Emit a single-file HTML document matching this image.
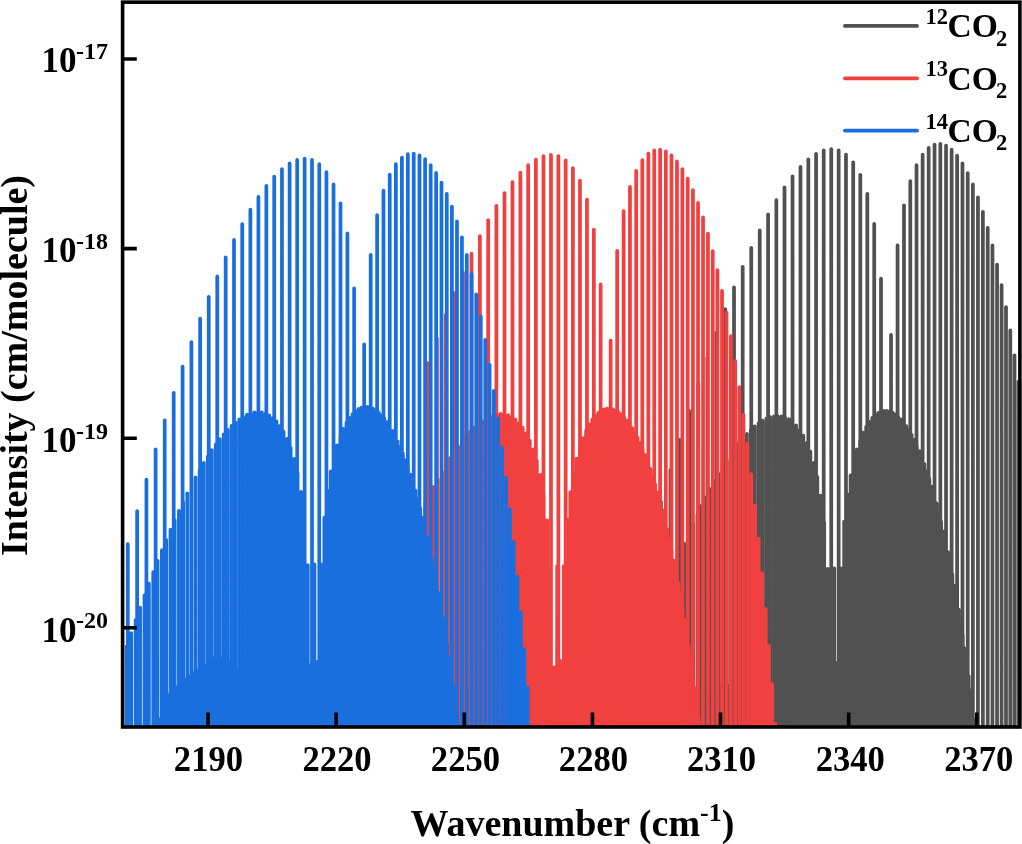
<!DOCTYPE html>
<html><head><meta charset="utf-8"><title>CO2 isotopologue spectra</title>
<style>
html,body{margin:0;padding:0;background:#fff;}
svg{display:block;}
text{font-family:"Liberation Serif","Times New Roman",serif;font-weight:bold;fill:#000;}
</style></head>
<body>
<svg width="1022" height="844" viewBox="0 0 1022 844">
<defs><clipPath id="c"><rect x="122.6" y="2.15" width="897.3" height="724.85"/></clipPath></defs>
<g clip-path="url(#c)" fill="none" stroke-width="3.75" stroke-linecap="round">
<path stroke="#515151" d="M891.02 730.0V334.78M881.02 730.0V278.65M897.56 730.0V245.25M874.22 730.0V223.77M903.99 730.0V205.37M867.32 730.0V193.83M910.31 730.0V181.10M860.31 730.0V174.83M916.53 730.0V165.09M853.20 730.0V162.40M922.64 730.0V154.50M845.98 730.0V154.58M928.65 730.0V147.93M838.66 730.0V150.33M934.55 730.0V144.58M831.24 730.0V149.03M940.35 730.0V143.96M823.71 730.0V150.28M946.04 730.0V145.73M816.07 730.0V153.79M951.62 730.0V149.68M808.33 730.0V159.39M957.10 730.0V155.62M800.49 730.0V166.91M962.47 730.0V163.43M792.54 730.0V176.26M967.73 730.0V173.03M784.49 730.0V187.35M972.89 730.0V184.32M776.34 730.0V200.11M977.94 730.0V197.26M768.08 730.0V214.48M982.88 730.0V211.78M759.72 730.0V230.42M987.72 730.0V227.86M751.26 730.0V247.89M992.45 730.0V245.46M742.69 730.0V266.87M997.07 730.0V264.54M734.02 730.0V287.32M1001.59 730.0V285.08M725.25 730.0V309.22M1006.00 730.0V307.07M716.37 730.0V332.55M1010.30 730.0V330.48M707.39 730.0V357.30M1014.49 730.0V355.30M698.31 730.0V383.46M1018.57 730.0V381.52M689.12 730.0V410.99M1022.55 730.0V409.11M679.84 730.0V439.91M1026.42 730.0V438.08M670.45 730.0V470.19M1030.18 730.0V468.41M660.96 730.0V501.83M651.36 730.0V534.81M641.67 730.0V569.13M631.87 730.0V604.79M621.97 730.0V641.77M611.97 730.0V680.07M601.87 730.0V719.69M840.89 730.0V568.32M834.27 730.0V568.33M827.59 730.0V568.96M844.14 730.0V521.57M834.21 730.0V617.36M824.20 730.0V522.53M847.37 730.0V494.43M834.13 730.0V647.66M820.79 730.0V495.71M850.58 730.0V475.36M834.03 730.0V670.28M817.34 730.0V476.95M853.75 730.0V460.86M833.89 730.0V688.71M813.87 730.0V462.77M856.90 730.0V449.42M833.73 730.0V704.54M810.37 730.0V451.65M860.03 730.0V440.22M833.55 730.0V718.64M806.85 730.0V442.76M863.12 730.0V432.74M803.30 730.0V435.61M866.19 730.0V426.69M799.72 730.0V429.87M869.23 730.0V421.82M796.12 730.0V425.32M872.25 730.0V417.99M792.49 730.0V421.80M875.24 730.0V415.06M788.83 730.0V419.20M878.20 730.0V412.96M785.15 730.0V417.41M881.13 730.0V411.60M781.44 730.0V416.37M884.04 730.0V410.93M777.71 730.0V416.02M886.92 730.0V410.91M773.94 730.0V416.31M889.77 730.0V411.49M770.15 730.0V417.21M892.60 730.0V412.64M766.34 730.0V418.68M895.40 730.0V414.33M762.50 730.0V420.69M898.17 730.0V416.55M758.63 730.0V423.23M900.92 730.0V419.27M754.73 730.0V426.27M903.64 730.0V422.47M750.81 730.0V429.79M906.33 730.0V426.15M746.86 730.0V433.78M909.00 730.0V430.28M742.89 730.0V438.23M911.63 730.0V434.86M738.89 730.0V443.13M914.24 730.0V439.87M734.86 730.0V448.46M916.83 730.0V445.31M730.81 730.0V454.22M919.38 730.0V451.17M726.73 730.0V460.39M921.91 730.0V457.44M722.62 730.0V466.98M924.42 730.0V464.11M718.49 730.0V473.97M926.89 730.0V471.19M714.33 730.0V481.36M929.34 730.0V478.65M710.15 730.0V489.14M931.76 730.0V486.51M705.94 730.0V497.32M934.15 730.0V494.74M701.70 730.0V505.87M936.52 730.0V503.36M697.44 730.0V514.81M938.86 730.0V512.35M693.15 730.0V524.12M941.17 730.0V521.72M688.83 730.0V533.80M943.46 730.0V531.46M684.49 730.0V543.85M945.71 730.0V541.56M680.12 730.0V554.27M947.94 730.0V552.02M675.73 730.0V565.05M950.15 730.0V562.85M671.31 730.0V576.20M952.32 730.0V574.03M666.86 730.0V587.70M954.47 730.0V585.58M662.39 730.0V599.56M956.59 730.0V597.47M657.89 730.0V611.77M958.68 730.0V609.72M653.36 730.0V624.34M960.75 730.0V622.32M648.81 730.0V637.25M962.79 730.0V635.27M644.23 730.0V650.52M964.80 730.0V648.56M639.63 730.0V664.13M966.79 730.0V662.20M635.00 730.0V678.09M968.74 730.0V676.19M630.35 730.0V692.39M970.67 730.0V690.52M625.66 730.0V707.03M972.57 730.0V705.19M620.96 730.0V722.02M974.45 730.0V720.20M811.27 730.0V720.49M774.58 730.0V709.22M817.59 730.0V696.17M767.56 730.0V690.28M823.81 730.0V680.12M760.44 730.0V677.90M829.92 730.0V669.48M753.21 730.0V670.14M835.92 730.0V662.86M745.87 730.0V665.95M841.81 730.0V659.47M738.43 730.0V664.70M847.60 730.0V658.80M730.88 730.0V666.00M853.28 730.0V660.54M723.23 730.0V669.58M858.85 730.0V664.44M715.47 730.0V675.23M864.32 730.0V670.34M707.60 730.0V682.82M869.67 730.0V678.11M699.63 730.0V692.23M874.92 730.0V687.67M691.56 730.0V703.38M880.06 730.0V698.92M683.38 730.0V716.20M885.09 730.0V711.82M890.01 730.0V726.31M803.61 730.0V722.58M757.03 730.0V725.16M806.73 730.0V712.06M753.50 730.0V715.00M809.82 730.0V703.69M749.94 730.0V707.01M812.89 730.0V697.00M746.36 730.0V700.68M815.93 730.0V691.66M742.75 730.0V695.71M818.95 730.0V687.47M739.11 730.0V691.89M821.93 730.0V684.26M735.44 730.0V689.05M824.89 730.0V681.93M731.75 730.0V687.08M827.82 730.0V680.38M728.03 730.0V685.91M830.73 730.0V679.56M724.29 730.0V685.45M833.61 730.0V679.40M720.51 730.0V685.66M836.46 730.0V679.87M716.71 730.0V686.50M839.28 730.0V680.92M712.89 730.0V687.92M842.07 730.0V682.53M709.03 730.0V689.90M844.84 730.0V684.67M705.15 730.0V692.40M847.58 730.0V687.32M701.24 730.0V695.42M850.29 730.0V690.47M697.31 730.0V698.94M852.98 730.0V694.09M693.35 730.0V702.92M855.63 730.0V698.17M689.36 730.0V707.37M858.26 730.0V702.70M685.35 730.0V712.27M860.87 730.0V707.67M681.30 730.0V717.61M863.44 730.0V713.07M677.24 730.0V723.38M865.99 730.0V718.89M868.51 730.0V725.13M820.17 730.0V721.27M756.84 730.0V719.05M826.25 730.0V710.63M749.59 730.0V711.28M832.21 730.0V704.01M742.23 730.0V707.08M838.07 730.0V700.61M734.76 730.0V705.83M843.81 730.0V699.94M727.18 730.0V707.13M849.44 730.0V701.66M719.49 730.0V710.69M854.96 730.0V705.55M711.68 730.0V716.34M860.37 730.0V711.44M703.77 730.0V723.91M865.66 730.0V719.21"/>
<path stroke="#F14040" d="M610.63 730.0V340.51M600.64 730.0V284.38M617.17 730.0V250.98M593.84 730.0V229.50M623.61 730.0V211.10M586.95 730.0V199.56M629.95 730.0V186.82M579.95 730.0V180.56M636.18 730.0V170.81M572.86 730.0V168.13M642.32 730.0V160.22M565.66 730.0V160.32M648.35 730.0V153.65M558.37 730.0V156.07M654.28 730.0V150.29M550.97 730.0V154.77M660.10 730.0V149.67M543.47 730.0V156.01M665.83 730.0V151.44M535.87 730.0V159.53M671.45 730.0V155.38M528.17 730.0V165.13M676.97 730.0V161.32M520.38 730.0V172.65M682.39 730.0V169.13M512.48 730.0V182.00M687.70 730.0V178.72M504.48 730.0V193.09M692.92 730.0V190.01M496.38 730.0V205.84M698.03 730.0V202.95M488.18 730.0V220.21M703.03 730.0V217.47M479.89 730.0V236.16M707.93 730.0V233.54M471.49 730.0V253.63M712.74 730.0V251.14M463.00 730.0V272.60M717.43 730.0V270.21M454.40 730.0V293.05M722.03 730.0V290.76M445.71 730.0V314.95M726.52 730.0V312.74M436.91 730.0V338.29M730.90 730.0V336.15M428.02 730.0V363.04M735.18 730.0V360.96M739.36 730.0V387.17M743.44 730.0V414.77M747.41 730.0V443.73M751.28 730.0V474.05M755.04 730.0V505.73M758.70 730.0V538.74M762.25 730.0V573.10M765.70 730.0V608.78M769.04 730.0V645.79M772.28 730.0V684.11M775.42 730.0V723.75M563.81 730.0V566.12M557.19 730.0V566.13M550.52 730.0V566.76M567.07 730.0V519.37M557.14 730.0V615.16M547.13 730.0V520.33M570.31 730.0V492.23M557.06 730.0V645.46M543.72 730.0V493.51M573.51 730.0V473.15M556.96 730.0V668.08M540.28 730.0V474.75M576.70 730.0V458.66M556.83 730.0V686.51M536.81 730.0V460.58M579.85 730.0V447.22M556.68 730.0V702.34M533.32 730.0V449.46M582.98 730.0V438.01M556.50 730.0V716.44M529.81 730.0V440.57M586.09 730.0V430.54M526.26 730.0V433.41M589.17 730.0V424.48M522.70 730.0V427.68M592.22 730.0V419.61M519.10 730.0V423.13M595.25 730.0V415.78M515.48 730.0V419.61M598.25 730.0V412.85M511.84 730.0V417.01M601.22 730.0V410.75M508.17 730.0V415.22M604.17 730.0V409.39M504.47 730.0V414.18M607.09 730.0V408.72M500.75 730.0V413.83M609.99 730.0V408.69M497.01 730.0V414.12M612.86 730.0V409.27M493.23 730.0V415.02M615.71 730.0V410.42M489.44 730.0V416.49M618.53 730.0V412.11M485.61 730.0V418.50M621.32 730.0V414.33M481.76 730.0V421.04M624.09 730.0V417.05M477.89 730.0V424.08M626.83 730.0V420.25M473.99 730.0V427.60M629.54 730.0V423.92M470.07 730.0V431.59M632.23 730.0V428.05M466.11 730.0V436.04M634.89 730.0V432.63M462.14 730.0V440.94M637.53 730.0V437.64M458.14 730.0V446.27M640.14 730.0V443.08M454.11 730.0V452.03M642.72 730.0V448.94M450.06 730.0V458.20M645.28 730.0V455.21M445.98 730.0V464.79M647.81 730.0V461.88M441.88 730.0V471.78M650.32 730.0V468.95M437.75 730.0V479.17M652.80 730.0V476.41M433.60 730.0V486.96M655.25 730.0V484.26M429.42 730.0V495.13M657.68 730.0V492.50M425.22 730.0V503.68M660.08 730.0V501.12M662.46 730.0V510.11M664.81 730.0V519.47M667.13 730.0V529.21M669.42 730.0V539.30M671.69 730.0V549.77M673.94 730.0V560.59M676.16 730.0V571.78M678.35 730.0V583.32M680.51 730.0V595.21M682.65 730.0V607.46M684.76 730.0V620.05M686.85 730.0V633.00M688.91 730.0V646.29M690.94 730.0V659.93M692.94 730.0V673.91M694.92 730.0V688.24M696.88 730.0V702.91M698.80 730.0V717.92M535.42 730.0V718.36M498.73 730.0V707.10M541.73 730.0V694.04M491.70 730.0V688.16M547.93 730.0V677.98M484.56 730.0V675.79M554.03 730.0V667.35M477.32 730.0V668.02M560.01 730.0V660.73M469.96 730.0V663.83M565.88 730.0V657.33M462.50 730.0V662.59M571.65 730.0V656.67M454.93 730.0V663.89M577.30 730.0V658.40M447.25 730.0V667.47M582.84 730.0V662.30M439.46 730.0V673.12M588.27 730.0V668.20M431.56 730.0V680.71M593.59 730.0V675.97M423.56 730.0V690.12M598.80 730.0V685.52M603.90 730.0V696.78M608.88 730.0V709.67M613.76 730.0V724.16M526.70 730.0V726.65M529.85 730.0V713.12M483.28 730.0V715.71M532.97 730.0V702.59M479.74 730.0V705.55M536.06 730.0V694.22M476.18 730.0V697.55M539.12 730.0V687.53M472.59 730.0V691.23M542.15 730.0V682.19M468.97 730.0V686.26M545.16 730.0V678.00M465.33 730.0V682.44M548.13 730.0V674.79M461.65 730.0V679.60M551.08 730.0V672.46M457.95 730.0V677.64M554.00 730.0V670.91M454.22 730.0V676.46M556.90 730.0V670.09M450.47 730.0V676.01M559.76 730.0V669.93M446.68 730.0V676.22M562.60 730.0V670.40M442.87 730.0V677.05M565.41 730.0V671.45M439.03 730.0V678.47M568.19 730.0V673.06M435.16 730.0V680.45M570.94 730.0V675.20M431.27 730.0V682.96M573.67 730.0V677.85M427.35 730.0V685.98M576.36 730.0V680.99M423.40 730.0V689.50M579.03 730.0V684.61M581.67 730.0V688.69M584.29 730.0V693.23M586.87 730.0V698.20M589.42 730.0V703.60M591.95 730.0V709.42M594.45 730.0V715.65M596.92 730.0V722.29M495.60 730.0V720.14M432.27 730.0V717.94M501.67 730.0V709.50M425.02 730.0V710.17M507.63 730.0V702.87M513.48 730.0V699.47M519.21 730.0V698.80M524.83 730.0V700.52M530.34 730.0V704.41M535.73 730.0V710.30M541.00 730.0V718.07"/>
<path stroke="#1A6FDF" d="M364.15 730.0V344.44M354.16 730.0V288.31M370.69 730.0V254.90M347.38 730.0V233.43M377.13 730.0V215.02M340.50 730.0V203.49M383.47 730.0V190.74M333.52 730.0V184.49M389.72 730.0V174.73M326.44 730.0V172.06M395.87 730.0V164.13M319.27 730.0V164.24M401.91 730.0V157.55M312.00 730.0V159.98M407.86 730.0V154.19M304.64 730.0V158.68M413.72 730.0V153.55M297.18 730.0V159.91M419.47 730.0V155.32M289.62 730.0V163.42M425.12 730.0V159.24M281.96 730.0V169.01M430.68 730.0V165.17M274.21 730.0V176.53M436.14 730.0V172.97M266.36 730.0V185.86M441.49 730.0V182.55M258.41 730.0V196.94M446.75 730.0V193.82M250.37 730.0V209.68M451.91 730.0V206.74M242.24 730.0V224.04M456.97 730.0V221.25M234.00 730.0V239.96M461.93 730.0V237.30M225.67 730.0V257.42M466.79 730.0V254.88M217.25 730.0V276.38M471.56 730.0V273.93M208.73 730.0V296.81M476.22 730.0V294.46M200.12 730.0V318.69M480.78 730.0V316.42M191.40 730.0V342.01M485.24 730.0V339.80M182.60 730.0V366.74M489.60 730.0V364.60M173.70 730.0V392.86M493.86 730.0V390.78M164.70 730.0V420.38M498.02 730.0V418.35M155.61 730.0V449.27M502.09 730.0V447.28M146.42 730.0V479.52M506.05 730.0V477.58M137.14 730.0V511.13M509.90 730.0V509.22M127.77 730.0V544.09M513.66 730.0V542.21M517.32 730.0V576.53M520.88 730.0V612.19M524.33 730.0V649.16M527.69 730.0V687.45M321.08 730.0V564.40M314.47 730.0V564.41M307.80 730.0V565.05M324.34 730.0V517.65M314.42 730.0V613.44M304.41 730.0V518.61M327.58 730.0V490.51M314.34 730.0V643.74M301.01 730.0V491.79M330.79 730.0V471.43M314.24 730.0V666.36M297.57 730.0V473.03M333.97 730.0V456.93M314.12 730.0V684.79M294.11 730.0V458.86M337.13 730.0V445.49M313.97 730.0V700.62M290.63 730.0V447.74M340.27 730.0V436.28M313.80 730.0V714.71M287.12 730.0V438.85M343.38 730.0V428.80M283.59 730.0V431.69M346.46 730.0V422.74M280.04 730.0V425.95M349.52 730.0V417.87M276.45 730.0V421.40M352.56 730.0V414.03M272.85 730.0V417.88M355.57 730.0V411.10M269.22 730.0V415.27M358.55 730.0V408.99M265.56 730.0V413.49M361.51 730.0V407.63M261.88 730.0V412.44M364.45 730.0V406.96M258.18 730.0V412.09M367.36 730.0V406.93M254.45 730.0V412.38M370.24 730.0V407.50M250.69 730.0V413.27M373.10 730.0V408.64M246.91 730.0V414.74M375.94 730.0V410.33M243.11 730.0V416.75M378.75 730.0V412.54M239.28 730.0V419.28M381.53 730.0V415.26M235.43 730.0V422.31M384.29 730.0V418.45M231.55 730.0V425.83M387.02 730.0V422.12M227.65 730.0V429.82M389.73 730.0V426.24M223.72 730.0V434.26M392.42 730.0V430.81M219.77 730.0V439.15M395.07 730.0V435.82M215.80 730.0V444.48M397.71 730.0V441.25M211.80 730.0V450.23M400.32 730.0V447.10M207.78 730.0V456.40M402.90 730.0V453.36M203.73 730.0V462.98M405.46 730.0V460.02M199.65 730.0V469.96M407.99 730.0V467.08M195.56 730.0V477.35M410.50 730.0V474.54M191.43 730.0V485.12M412.98 730.0V482.38M187.29 730.0V493.29M415.43 730.0V490.61M183.12 730.0V501.83M417.86 730.0V499.22M178.92 730.0V510.76M420.27 730.0V508.20M174.70 730.0V520.06M422.65 730.0V517.55M170.46 730.0V529.74M425.01 730.0V527.28M166.19 730.0V539.78M427.34 730.0V537.37M161.90 730.0V550.19M429.64 730.0V547.82M157.58 730.0V560.96M431.92 730.0V558.63M153.24 730.0V572.09M434.17 730.0V569.80M148.88 730.0V583.59M436.40 730.0V581.33M144.49 730.0V595.43M438.60 730.0V593.21M140.08 730.0V607.64M440.78 730.0V605.45M135.64 730.0V620.19M442.93 730.0V618.03M131.18 730.0V633.10M445.06 730.0V630.97M126.69 730.0V646.35M447.16 730.0V644.25M122.18 730.0V659.95M449.23 730.0V657.87M451.28 730.0V671.84M453.31 730.0V686.16M455.31 730.0V700.81M457.28 730.0V715.81M161.00 730.0V718.87M162.50 730.0V709.88M164.00 730.0V704.32M165.50 730.0V700.48M167.00 730.0V696.64M168.50 730.0V694.86M170.00 730.0V693.59M171.50 730.0V692.32M173.00 730.0V691.05M174.50 730.0V689.78M176.00 730.0V688.51M177.50 730.0V687.24M179.00 730.0V685.98M180.50 730.0V684.69M182.00 730.0V683.34M183.50 730.0V681.98M185.00 730.0V680.62M186.50 730.0V679.27M188.00 730.0V677.91M189.50 730.0V676.65M191.00 730.0V675.48M192.50 730.0V674.31M194.00 730.0V673.14M195.50 730.0V671.97M197.00 730.0V670.83M198.50 730.0V670.20M200.00 730.0V669.57M201.50 730.0V668.94M203.00 730.0V668.31M204.50 730.0V667.68M206.00 730.0V666.38M207.50 730.0V664.73M209.00 730.0V663.09M210.50 730.0V661.44M212.00 730.0V659.80M213.50 730.0V658.39M215.00 730.0V658.48M216.50 730.0V658.57M218.00 730.0V658.67M219.50 730.0V658.76M221.00 730.0V658.86M222.50 730.0V659.42M224.00 730.0V660.10M225.50 730.0V660.78M227.00 730.0V661.46M228.50 730.0V662.14M230.00 730.0V663.62M231.50 730.0V665.29M233.00 730.0V666.97M234.50 730.0V668.64M236.00 730.0V670.32M237.50 730.0V672.40M239.00 730.0V674.69M240.50 730.0V676.98M242.00 730.0V679.26M243.50 730.0V681.55M245.00 730.0V683.53M246.50 730.0V684.89M248.00 730.0V686.25M249.50 730.0V687.61M251.00 730.0V688.97M252.50 730.0V689.73M254.00 730.0V689.30M255.50 730.0V688.87M257.00 730.0V688.45M258.50 730.0V688.02M260.00 730.0V687.59M261.50 730.0V687.16M263.00 730.0V686.73M264.50 730.0V686.30M266.00 730.0V685.87M267.50 730.0V685.45M269.00 730.0V685.02M270.50 730.0V684.59M272.00 730.0V684.16M273.50 730.0V683.73M275.00 730.0V683.30M276.50 730.0V682.87M278.00 730.0V682.45M279.50 730.0V682.02M281.00 730.0V681.27M282.50 730.0V680.38M284.00 730.0V679.48M285.50 730.0V678.57M287.00 730.0V677.68M288.50 730.0V676.77M290.00 730.0V675.88M291.50 730.0V674.98M293.00 730.0V674.08M294.50 730.0V673.17M296.00 730.0V672.27M297.50 730.0V671.38M299.00 730.0V670.47M300.50 730.0V669.66M302.00 730.0V669.02M303.50 730.0V668.39M305.00 730.0V667.75M306.50 730.0V667.11M308.00 730.0V666.47M309.50 730.0V665.82M311.00 730.0V664.96M312.50 730.0V664.10M314.00 730.0V663.25M315.50 730.0V662.39M317.00 730.0V662.01M318.50 730.0V662.34M320.00 730.0V662.67M321.50 730.0V663.00M323.00 730.0V663.33M324.50 730.0V663.66M326.00 730.0V663.99M327.50 730.0V664.32M329.00 730.0V664.65M330.50 730.0V665.44M332.00 730.0V667.14M333.50 730.0V668.84M335.00 730.0V670.54M336.50 730.0V672.24M338.00 730.0V673.94M339.50 730.0V675.64M341.00 730.0V677.34M342.50 730.0V679.04M344.00 730.0V680.74M345.50 730.0V682.54M347.00 730.0V684.54M348.50 730.0V686.54M350.00 730.0V688.54M351.50 730.0V690.54M353.00 730.0V692.54M354.50 730.0V694.54M356.00 730.0V696.54M357.50 730.0V698.54M359.00 730.0V700.54"/>
</g>
<g stroke="#000" stroke-width="3.6" fill="none">
<rect x="122.6" y="2.15" width="897.3" height="724.85"/>
<path d="M122.6 59H136.8M122.6 248.6H136.8M122.6 438.2H136.8M122.6 627.8H136.8"/>
<path d="M208 727V712.4M336.1 727V712.4M464.3 727V712.4M592.4 727V712.4M720.5 727V712.4M848.7 727V712.4M976.8 727V712.4"/>
</g>
<g font-size="35">
<text x="41.4" y="72.1">10</text><text x="76" y="58.8" font-size="24">-17</text>
<text x="41.4" y="262.3">10</text><text x="76" y="248.5" font-size="24">-18</text>
<text x="41.4" y="452.3">10</text><text x="76" y="438.5" font-size="24">-19</text>
<text x="41.4" y="642.3">10</text><text x="76" y="628.2" font-size="24">-20</text>
</g>
<g font-size="36" text-anchor="middle">
<text transform="translate(208.4 771.2) scale(0.96 1)">2190</text>
<text transform="translate(337 771.2) scale(0.96 1)">2220</text>
<text transform="translate(465.4 771.2) scale(0.96 1)">2250</text>
<text transform="translate(593.4 771.2) scale(0.96 1)">2280</text>
<text transform="translate(721.5 771.2) scale(0.96 1)">2310</text>
<text transform="translate(850.2 771.2) scale(0.96 1)">2340</text>
<text transform="translate(978.7 771.2) scale(0.96 1)">2370</text>
</g>
<text x="410.5" y="835.8" font-size="38">Wavenumber (cm<tspan font-size="26" dy="-15">-1</tspan><tspan dy="15">)</tspan></text>
<text transform="translate(27,365.5) rotate(-90)" x="0" y="0" font-size="38" text-anchor="middle">Intensity (cm/molecule)</text>
<g stroke-width="3.7" stroke-linecap="round">
<path stroke="#515151" d="M844.9 25.9H917.1"/>
<path stroke="#F14040" d="M844.9 78.3H917.1"/>
<path stroke="#1A6FDF" d="M844.9 130.7H917.1"/>
</g>
<g font-size="33.5">
<text x="925.5" y="37.2"><tspan font-size="22.5" dy="-13.3">12</tspan><tspan dy="13.3" dx="-0.5">CO</tspan><tspan font-size="22.5" dy="8.4" dx="-1.8">2</tspan></text>
<text x="925.5" y="89.6"><tspan font-size="22.5" dy="-13.3">13</tspan><tspan dy="13.3" dx="-0.5">CO</tspan><tspan font-size="22.5" dy="8.4" dx="-1.8">2</tspan></text>
<text x="925.5" y="142"><tspan font-size="22.5" dy="-13.3">14</tspan><tspan dy="13.3" dx="-0.5">CO</tspan><tspan font-size="22.5" dy="8.4" dx="-1.8">2</tspan></text>
</g>
</svg>
</body></html>
